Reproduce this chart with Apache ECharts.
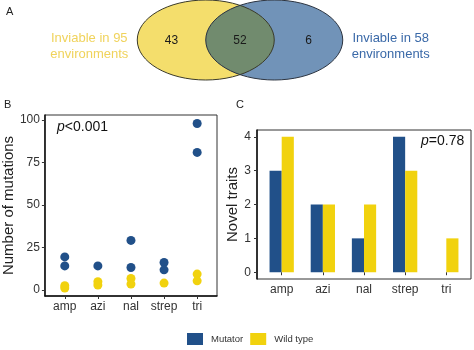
<!DOCTYPE html>
<html>
<head>
<meta charset="utf-8">
<script src="https://cdn.jsdelivr.net/npm/echarts@6/dist/echarts.min.js"></script>
<style>
  html, body { margin: 0; padding: 0; background: #fff; }
  #main { width: 474px; height: 350px; }
</style>
</head>
<body>
<div id="main"></div>
<script>
// Venn: totals per set and region counts (only 95-set, both, only 58-set)
var vennTotals = [95, 58];
var vennCounts = [43, 52, 6];

// B: number of mutations per antibiotic (each replicate)
var drugs = ['amp', 'azi', 'nal', 'strep', 'tri'];
var mutatorMutations = [[19.5, 14.2], [14.2], [29.2, 13.3], [16.2, 11.9], [98, 81]];
var wildMutations = [[2.5, 1.2], [4.9, 2.9], [6.8, 3.5], [4.1], [9.4, 5.4]];
var mutationTicks = [0, 25, 50, 75, 100];

// C: novel traits
var mutatorTraits = [3, 2, 1, 4, 0];
var wildTraits = [4, 2, 2, 3, 1];
var traitTicks = [0, 1, 2, 3, 4];

var BLUE = '#215089', YELLOW = '#f1d20e';
var FONT = 'Liberation Sans';

function toPoints(groups) {
    var out = [];
    groups.forEach(function (vals, i) {
        vals.forEach(function (v) { out.push([i + 1, v]); });
    });
    return out;
}

// venn layout (axis units: one unit = distance between set centres)
var setX = [-0.5, 0.5];
var regionX = [-1, 0, 1];
var labelX = [-2.2, 2.2];

function renderVenn(params, api) {
    var a = api.coord([setX[0], 0]), b = api.coord([setX[1], 0]);
    var sz = api.size([1, 1]);
    var rx = sz[0], ry = sz[1];
    var mid = (a[0] + b[0]) / 2;
    var th = Math.acos((mid - a[0]) / rx);
    var lens = [];
    var n = 40, k, t;
    for (k = 0; k <= n; k++) {
        t = -th + 2 * th * k / n;
        lens.push([a[0] + rx * Math.cos(t), a[1] + ry * Math.sin(t)]);
    }
    for (k = 0; k <= n; k++) {
        t = Math.PI - th + 2 * th * k / n;
        lens.push([b[0] + rx * Math.cos(t), b[1] + ry * Math.sin(t)]);
    }
    var kids = [
        {type: 'ellipse', shape: {cx: a[0], cy: a[1], rx: rx, ry: ry}, style: {fill: '#f4de6c', stroke: null}},
        {type: 'ellipse', shape: {cx: b[0], cy: b[1], rx: rx, ry: ry}, style: {fill: '#7193b8', stroke: null}},
        {type: 'polygon', shape: {points: lens}, style: {fill: '#718b6e', stroke: null}},
        {type: 'ellipse', shape: {cx: a[0], cy: a[1], rx: rx, ry: ry}, style: {fill: null, stroke: '#3a3a2a', lineWidth: 1}},
        {type: 'ellipse', shape: {cx: b[0], cy: b[1], rx: rx, ry: ry}, style: {fill: null, stroke: '#2c3440', lineWidth: 1}}
    ];
    vennCounts.forEach(function (c, i) {
        var p = api.coord([regionX[i], 0]);
        kids.push({type: 'text', style: {text: String(c), x: p[0], y: p[1] + 1, fill: '#1a1a1a',
            fontSize: 12, fontFamily: FONT, align: 'center', verticalAlign: 'middle'}});
    });
    var labelColors = ['#f0d35c', '#3a69a8'];
    vennTotals.forEach(function (tot, i) {
        var p = api.coord([labelX[i], 0]);
        kids.push({type: 'text', style: {text: 'Inviable in ' + tot + '\nenvironments', x: p[0], y: p[1] + 6,
            fill: labelColors[i], fontSize: 13, lineHeight: 16, fontFamily: FONT, align: 'center', verticalAlign: 'middle'}});
    });
    return {type: 'group', children: kids};
}

// C bars sit in their own category grid lined up inside the frame
var cLeft = 257, cWidth = 214, cUnit = cWidth / 5.2;

var tickStyle = {color: '#333'};
var chart = echarts.init(document.getElementById('main'));
chart.setOption({
    animation: false,
    textStyle: {fontFamily: FONT},
    legend: {
        data: ['Mutator', 'Wild type'], left: 187, top: 333, icon: 'rect', padding: 0,
        itemWidth: 16, itemHeight: 12, itemGap: 7,
        textStyle: {fontSize: 9.5, color: '#333', padding: [0, 0, 0, 3]}
    },
    grid: [
        {left: 42, top: 115, width: 175, height: 181, show: true, borderColor: '#333', borderWidth: 1},
        {left: cLeft, top: 130, width: cWidth, height: 149, show: true, borderColor: '#333', borderWidth: 1},
        {left: cLeft + 0.1 * cUnit, top: 130, width: 5 * cUnit, height: 149},
        {left: 68.75, top: 0, width: 342.5, height: 80}
    ],
    xAxis: [
        {gridIndex: 0, type: 'value', min: 0.4, max: 5.6, splitLine: {show: false},
            axisLine: {show: true, onZero: false, lineStyle: {color: '#111', width: 1.5}},
            axisTick: {customValues: [1, 2, 3, 4, 5], length: 3, lineStyle: tickStyle},
            axisLabel: {customValues: [1, 2, 3, 4, 5], formatter: function (v) { return drugs[v - 1]; },
                fontSize: 12, color: '#333', margin: 5}},
        {gridIndex: 1, type: 'value', min: 0, max: 1, show: false},
        {gridIndex: 2, type: 'category', data: drugs, axisLine: {show: false},
            axisTick: {show: true, alignWithLabel: true, length: 3, lineStyle: tickStyle},
            axisLabel: {fontSize: 12, color: '#333', margin: 5}},
        {gridIndex: 3, type: 'value', min: -2.5, max: 2.5, show: false}
    ],
    yAxis: [
        {gridIndex: 0, type: 'value', min: -3.5, max: 103, splitLine: {show: false},
            axisLine: {show: true, onZero: false, lineStyle: {color: '#111', width: 1.5}},
            axisTick: {show: true, customValues: mutationTicks, length: 3, lineStyle: tickStyle},
            axisLabel: {customValues: mutationTicks, fontSize: 12, color: '#333', margin: 5},
            name: 'Number of mutations', nameLocation: 'middle', nameGap: 23,
            nameTextStyle: {fontSize: 15, color: '#222'}},
        {gridIndex: 1, type: 'value', min: -0.2, max: 4.2, splitLine: {show: false},
            axisLine: {show: true, onZero: false, lineStyle: {color: '#111', width: 1.5}},
            axisTick: {show: true, customValues: traitTicks, length: 3, lineStyle: tickStyle},
            axisLabel: {customValues: traitTicks, fontSize: 12, color: '#333', margin: 6},
            name: 'Novel traits', nameLocation: 'middle', nameGap: 13,
            nameTextStyle: {fontSize: 15, color: '#222'}},
        {gridIndex: 2, type: 'value', min: -0.2, max: 4.2, show: false},
        {gridIndex: 3, type: 'value', min: -1, max: 1, show: false}
    ],
    series: [
        {name: 'Mutator', type: 'scatter', xAxisIndex: 0, yAxisIndex: 0, symbolSize: 9,
            itemStyle: {color: BLUE, opacity: 1}, data: toPoints(mutatorMutations)},
        {name: 'Wild type', type: 'scatter', xAxisIndex: 0, yAxisIndex: 0, symbolSize: 9,
            itemStyle: {color: YELLOW, opacity: 1}, data: toPoints(wildMutations)},
        {name: 'Mutator', type: 'bar', xAxisIndex: 2, yAxisIndex: 2, barGap: 0, barCategoryGap: '41%',
            itemStyle: {color: BLUE}, data: mutatorTraits},
        {name: 'Wild type', type: 'bar', xAxisIndex: 2, yAxisIndex: 2, barGap: 0, barCategoryGap: '41%',
            itemStyle: {color: YELLOW}, data: wildTraits},
        {name: 'venn', type: 'custom', xAxisIndex: 3, yAxisIndex: 3, renderItem: renderVenn, data: [[0, 0]],
            silent: true}
    ],
    graphic: [
        {type: 'text', left: 6, top: 6, style: {text: 'A', fontSize: 11, fill: '#222', fontFamily: FONT}},
        {type: 'text', left: 4, top: 99, style: {text: 'B', fontSize: 11, fill: '#222', fontFamily: FONT}},
        {type: 'text', left: 236, top: 99, style: {text: 'C', fontSize: 11, fill: '#222', fontFamily: FONT}},
        {type: 'text', left: 57, top: 120, style: {text: '{i|p}<0.001', fontSize: 14, fill: '#111', fontFamily: FONT,
            rich: {i: {fontStyle: 'italic', fontSize: 14, fontFamily: FONT}}}},
        {type: 'text', left: 421, top: 134, style: {text: '{i|p}=0.78', fontSize: 14, fill: '#111', fontFamily: FONT,
            rich: {i: {fontStyle: 'italic', fontSize: 14, fontFamily: FONT}}}}
    ]
});
</script>
</body>
</html>
